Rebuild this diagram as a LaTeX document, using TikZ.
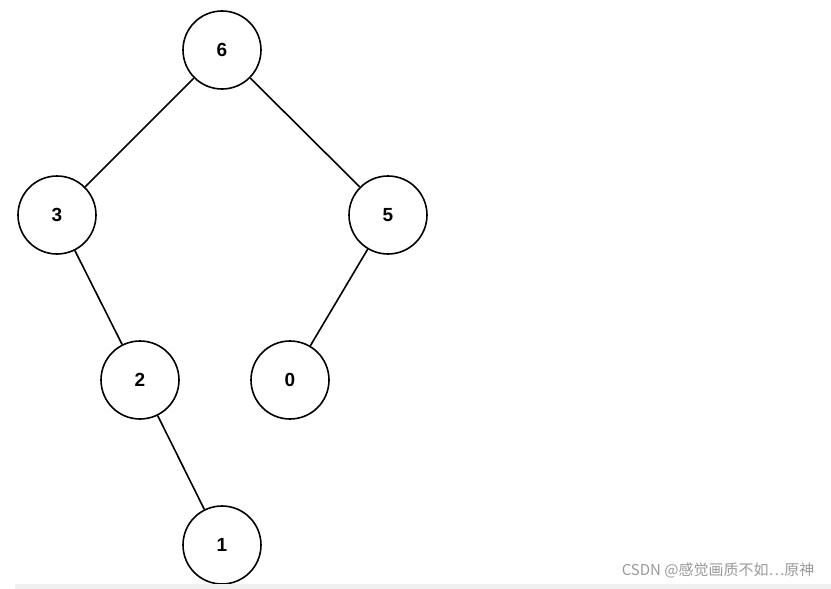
\documentclass[tikz,border=0pt]{standalone}
\usepackage{fontspec}
\setmainfont{Liberation Sans}
\newfontfamily\cjk{Noto Sans CJK SC}
\begin{document}
\begin{tikzpicture}[x=1pt,y=-1pt,
  tn/.style={circle,draw,line width=1.6pt,minimum size=78pt,inner sep=0pt,font=\fontsize{19}{19}\selectfont\bfseries},
  edge/.style={line width=1.6pt}]
\useasboundingbox (0,0) rectangle (831,589);
\node[tn] (n6) at (222,50) {6};
\node[tn] (n3) at (57,215) {3};
\node[tn] (n5) at (388,215) {5};
\node[tn] (n2) at (140,380) {2};
\node[tn] (n0) at (290,380) {0};
\node[tn] (n1) at (222,545) {1};
\draw[edge] (n6) -- (n3);
\draw[edge] (n6) -- (n5);
\draw[edge] (n3) -- (n2);
\draw[edge] (n5) -- (n0);
\draw[edge] (n2) -- (n1);
\fill[gray!12] (15,584) rectangle (831,589);
\node[text=gray!80,font=\cjk\fontsize{15}{15}\selectfont,anchor=east] (wm) at (818,570) {CSDN @感觉画质不如…原神};
\end{tikzpicture}
\end{document}
